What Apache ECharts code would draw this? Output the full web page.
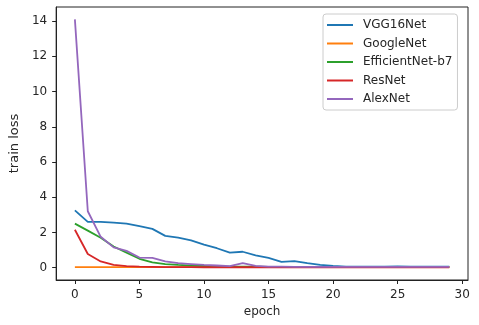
<!DOCTYPE html>
<html>
<head>
<meta charset="utf-8">
<script src="https://cdn.jsdelivr.net/npm/echarts@6/dist/echarts.min.js"></script>
<style>html,body{margin:0;padding:0;background:#fff;}#c{width:479px;height:325px;}</style>
</head>
<body>
<div id="c"></div>
<script>
var epochs = [0,1,2,3,4,5,6,7,8,9,10,11,12,13,14,15,16,17,18,19,20,21,22,23,24,25,26,27,28,29];
var seriesNames = ['VGG16Net','GoogleNet','EfficientNet-b7','ResNet','AlexNet'];
var vgg16 = [3.25,2.6,2.6,2.55,2.5,2.35,2.2,1.8,1.7,1.55,1.3,1.1,0.85,0.9,0.7,0.55,0.33,0.37,0.25,0.15,0.1,0.06,0.05,0.06,0.05,0.07,0.05,0.05,0.05,0.05];
var googleNet = [0.03,0.03,0.03,0.03,0.03,0.03,0.03,0.03,0.03,0.03,0.03,0.03,0.03,0.03,0.03,0.03,0.03,0.03,0.03,0.03,0.03,0.03,0.03,0.03,0.03,0.03,0.03,0.03,0.03,0.03];
var efficientNet = [2.5,2.1,1.7,1.2,0.85,0.5,0.3,0.2,0.15,0.11,0.09,0.07,0.06,0.05,0.05,0.04,0.04,0.04,0.03,0.03,0.03,0.03,0.03,0.03,0.03,0.03,0.03,0.03,0.03,0.03];
var resNet = [2.15,0.77,0.35,0.15,0.08,0.05,0.04,0.03,0.03,0.03,0.02,0.02,0.02,0.02,0.02,0.02,0.02,0.02,0.02,0.02,0.02,0.02,0.02,0.02,0.02,0.02,0.02,0.02,0.02,0.02];
var alexNet = [14.1,3.2,1.75,1.15,0.95,0.57,0.55,0.35,0.25,0.2,0.15,0.12,0.08,0.25,0.1,0.05,0.05,0.04,0.04,0.04,0.04,0.04,0.04,0.04,0.04,0.04,0.04,0.04,0.04,0.04];
var xTicks = [0,5,10,15,20,25,30];
var yTicks = [0,2,4,6,8,10,12,14];
var colors = ['#1f77b4','#ff7f0e','#2ca02c','#d62728','#9467bd'];

var allData = [vgg16, googleNet, efficientNet, resNet, alexNet];
function pairs(arr){ return arr.map(function(v,i){ return [epochs[i], v]; }); }

var font = 'DejaVu Sans';
var chart = echarts.init(document.getElementById('c'), null, {renderer:'canvas'});
chart.setOption({
  animation: false,
  backgroundColor: '#fff',
  color: colors,
  grid: {left: 50, top: 7, right: 11, bottom: 45, show: true, borderColor: '#222', borderWidth: 1, backgroundColor: 'transparent'},
  legend: {
    orient: 'vertical', left: 323, top: 14,
    data: seriesNames,
    icon: 'rect', itemWidth: 26, itemHeight: 2, itemGap: 4.5,
    padding: [4, 5, 4, 4],
    borderColor: '#cccccc', borderWidth: 1, borderRadius: 3, backgroundColor: '#fff',
    textStyle: {fontFamily: font, fontSize: 12, color: '#262626', lineHeight: 14, padding: [0,0,0,5]}
  },
  xAxis: {
    type: 'value', min: -1.45, max: 30.45,
    name: 'epoch', nameLocation: 'middle', nameGap: 26,
    nameTextStyle: {fontFamily: font, fontSize: 12, color: '#262626'},
    axisLine: {show: true, onZero: false, lineStyle: {color: '#222', width: 1}},
    axisTick: {show: true, length: 4, lineStyle: {color: '#222'}, customValues: xTicks},
    axisLabel: {fontFamily: font, fontSize: 12, color: '#262626', margin: 9, customValues: xTicks},
    splitLine: {show: false}
  },
  yAxis: {
    type: 'value', min: -0.705, max: 14.805,
    name: 'train loss', nameLocation: 'middle', nameGap: 32,
    nameTextStyle: {fontFamily: font, fontSize: 13, color: '#262626'},
    axisLine: {show: true, onZero: false, lineStyle: {color: '#222', width: 1}},
    axisTick: {show: true, length: 4, lineStyle: {color: '#222'}, customValues: yTicks},
    axisLabel: {fontFamily: font, fontSize: 12, color: '#262626', margin: 9, customValues: yTicks},
    splitLine: {show: false}
  },
  series: seriesNames.map(function(n, k){
    return {name: n, type: 'line', data: pairs(allData[k]), showSymbol: false, symbol: 'none',
      lineStyle: {width: 1.8, color: colors[k]}, itemStyle: {color: colors[k]}};
  })
});
</script>
</body>
</html>
